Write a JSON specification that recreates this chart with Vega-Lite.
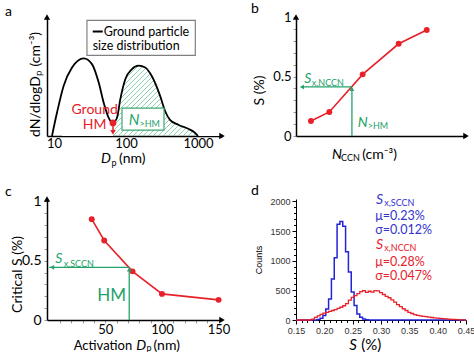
{
"$schema": "https://vega.github.io/schema/vega-lite/v6.json",
"padding": {"left": 5, "top": 2, "right": 0, "bottom": 0},
"config": {
  "view": {"stroke": null},
  "font": "Lato",
  "axis": {"grid": false, "domainColor": "#000", "domainWidth": 1.5, "labelFont": "Lato", "labelFontSize": 13, "labelColor": "#000", "titleFont": "Lato", "titleFontSize": 14, "titleFontWeight": "normal", "titleColor": "#000", "zindex": 1, "labelOverlap": false, "labelFlush": false, "tickColor": "#999", "tickSize": 3},
  "title": {"font": "Lato", "fontSize": 14, "fontWeight": "normal", "anchor": "start", "frame": "group", "color": "#000", "offset": 0}
},
"datasets": {
  "curveA": [
    {"x": 9.38, "y": 0}, {"x": 11.0, "y": 0.195}, {"x": 13.6, "y": 0.421}, {"x": 17.8, "y": 0.576}, {"x": 25.9, "y": 0.653},
    {"x": 33.7, "y": 0.604}, {"x": 41.8, "y": 0.449}, {"x": 49.0, "y": 0.28}, {"x": 57.5, "y": 0.153}, {"x": 66, "y": 0.11},
    {"x": 75, "y": 0.153}, {"x": 83.3, "y": 0.308}, {"x": 97.8, "y": 0.477}, {"x": 121, "y": 0.562}, {"x": 150, "y": 0.591},
    {"x": 185, "y": 0.576}, {"x": 230, "y": 0.5}, {"x": 297, "y": 0.339}, {"x": 348, "y": 0.212}, {"x": 408, "y": 0.136},
    {"x": 540, "y": 0.093}, {"x": 743, "y": 0.059}, {"x": 879, "y": 0.034}, {"x": 1000, "y": 0}
  ],
  "maskTopA": [
    {"x": 57.5, "y": 0.153, "y2": 0.66}, {"x": 66, "y": 0.11, "y2": 0.66},
    {"x": 75, "y": 0.153, "y2": 0.66}, {"x": 83.3, "y": 0.308, "y2": 0.66}, {"x": 97.8, "y": 0.477, "y2": 0.66}, {"x": 121, "y": 0.562, "y2": 0.66}, {"x": 150, "y": 0.591, "y2": 0.66},
    {"x": 185, "y": 0.576, "y2": 0.66}, {"x": 230, "y": 0.5, "y2": 0.66}, {"x": 297, "y": 0.339, "y2": 0.66}, {"x": 348, "y": 0.212, "y2": 0.66}, {"x": 408, "y": 0.136, "y2": 0.66},
    {"x": 540, "y": 0.093, "y2": 0.66}, {"x": 743, "y": 0.059, "y2": 0.66}, {"x": 879, "y": 0.034, "y2": 0.66}, {"x": 1000, "y": 0, "y2": 0.66}
  ],
  "hatchA": [
    {"x": 15.65, "x2": 172.2, "y": 0, "y2": 0.63}, {"x": 18.36, "x2": 202.1, "y": 0, "y2": 0.63}, {"x": 21.54, "x2": 237.1, "y": 0, "y2": 0.63}, {"x": 25.27, "x2": 278.3, "y": 0, "y2": 0.63},
    {"x": 29.66, "x2": 326.6, "y": 0, "y2": 0.63}, {"x": 34.81, "x2": 383.1, "y": 0, "y2": 0.63}, {"x": 40.84, "x2": 449.6, "y": 0, "y2": 0.63}, {"x": 47.92, "x2": 527.5, "y": 0, "y2": 0.63},
    {"x": 56.23, "x2": 619.0, "y": 0, "y2": 0.63}, {"x": 65.98, "x2": 726.4, "y": 0, "y2": 0.63}, {"x": 77.43, "x2": 852.3, "y": 0, "y2": 0.63}, {"x": 90.85, "x2": 1000, "y": 0, "y2": 0.63},
    {"x": 106.6, "x2": 1174, "y": 0, "y2": 0.63}, {"x": 125.1, "x2": 1377, "y": 0, "y2": 0.63}, {"x": 146.8, "x2": 1616, "y": 0, "y2": 0.63}, {"x": 172.2, "x2": 1896, "y": 0, "y2": 0.63},
    {"x": 202.1, "x2": 2225, "y": 0, "y2": 0.63}, {"x": 237.1, "x2": 2610, "y": 0, "y2": 0.63}, {"x": 278.3, "x2": 3063, "y": 0, "y2": 0.63}, {"x": 326.6, "x2": 3594, "y": 0, "y2": 0.63},
    {"x": 383.1, "x2": 4217, "y": 0, "y2": 0.63}, {"x": 449.6, "x2": 4948, "y": 0, "y2": 0.63}, {"x": 527.5, "x2": 5806, "y": 0, "y2": 0.63}, {"x": 619.0, "x2": 6813, "y": 0, "y2": 0.63},
    {"x": 726.4, "x2": 7994, "y": 0, "y2": 0.63}, {"x": 852.3, "x2": 9380, "y": 0, "y2": 0.63}, {"x": 1000, "x2": 11007, "y": 0, "y2": 0.63}
  ],
  "blueD": [
    {"x": 0.15, "y": 0}, {"x": 0.1875, "y": 10}, {"x": 0.1925, "y": 30}, {"x": 0.1975, "y": 75}, {"x": 0.2025, "y": 185},
    {"x": 0.2075, "y": 355}, {"x": 0.2125, "y": 690}, {"x": 0.2175, "y": 1050}, {"x": 0.2225, "y": 1615}, {"x": 0.2275, "y": 1660},
    {"x": 0.2325, "y": 1580}, {"x": 0.2375, "y": 1150}, {"x": 0.2425, "y": 810}, {"x": 0.2475, "y": 470}, {"x": 0.2525, "y": 245},
    {"x": 0.2575, "y": 100}, {"x": 0.2625, "y": 45}, {"x": 0.2675, "y": 15}, {"x": 0.2725, "y": 5}, {"x": 0.2775, "y": 0},
    {"x": 0.45, "y": 0}
  ],
  "redD": [
    {"x": 0.15, "y": 0}, {"x": 0.1775, "y": 15}, {"x": 0.1825, "y": 45}, {"x": 0.1875, "y": 70}, {"x": 0.1925, "y": 95},
    {"x": 0.1975, "y": 115}, {"x": 0.2025, "y": 130}, {"x": 0.2075, "y": 145}, {"x": 0.2125, "y": 160}, {"x": 0.2175, "y": 175},
    {"x": 0.2225, "y": 195}, {"x": 0.2275, "y": 215}, {"x": 0.2325, "y": 240}, {"x": 0.2375, "y": 275}, {"x": 0.2425, "y": 335},
    {"x": 0.2475, "y": 380}, {"x": 0.2525, "y": 410}, {"x": 0.2575, "y": 445}, {"x": 0.2625, "y": 480}, {"x": 0.2675, "y": 495},
    {"x": 0.2725, "y": 465}, {"x": 0.2775, "y": 485}, {"x": 0.2825, "y": 470}, {"x": 0.2875, "y": 495}, {"x": 0.2925, "y": 490},
    {"x": 0.2975, "y": 460}, {"x": 0.3025, "y": 430}, {"x": 0.3075, "y": 400}, {"x": 0.3125, "y": 375}, {"x": 0.3175, "y": 340},
    {"x": 0.3225, "y": 300}, {"x": 0.3275, "y": 260}, {"x": 0.3325, "y": 225}, {"x": 0.3375, "y": 190}, {"x": 0.3425, "y": 160},
    {"x": 0.3475, "y": 130}, {"x": 0.3525, "y": 110}, {"x": 0.3575, "y": 92}, {"x": 0.3625, "y": 78}, {"x": 0.3675, "y": 70},
    {"x": 0.3725, "y": 62}, {"x": 0.3775, "y": 56}, {"x": 0.3825, "y": 48}, {"x": 0.3875, "y": 42}, {"x": 0.3925, "y": 36},
    {"x": 0.3975, "y": 31}, {"x": 0.4025, "y": 27}, {"x": 0.4075, "y": 23}, {"x": 0.4125, "y": 19}, {"x": 0.4175, "y": 15},
    {"x": 0.4225, "y": 12}, {"x": 0.4275, "y": 9}, {"x": 0.4325, "y": 6}, {"x": 0.4375, "y": 3}, {"x": 0.4425, "y": 1},
    {"x": 0.4475, "y": 0}, {"x": 0.45, "y": 0}
  ]
},
"columns": 2,
"bounds": "flush",
"spacing": {"row": 63, "column": 74},
"concat": [
{
  "width": 175, "height": 119,
  "title": {"text": "a", "dx": -42, "dy": 9},
  "encoding": {
    "x": {"field": "x", "type": "quantitative", "scale": {"type": "log", "domain": [8, 2154], "nice": false}, "axis": {"values": [10, 100, 1000], "format": "d", "ticks": false, "labelPadding": 1, "labelFontSize": 13, "title": null}},
    "y": {"field": "y", "type": "quantitative", "scale": {"domain": [0, 1], "nice": false}, "axis": {"labels": false, "ticks": false, "minExtent": 0, "title": "dN/dlogDₚ (cm⁻³)", "titlePadding": 5, "titleY": 67}}
  },
  "layer": [
    {"data": {"name": "hatchA"}, "mark": {"type": "rule", "clip": true, "color": "#72c79b", "strokeWidth": 0.8},
     "encoding": {"x2": {"field": "x2"}, "y2": {"field": "y2"}}},
    {"data": {"values": [{"x": 12.9, "x2": 66, "y": 0, "y2": 0.66}, {"x": 1000, "x2": 2154, "y": 0, "y2": 0.66}]}, "mark": {"type": "rect", "color": "white"},
     "encoding": {"x2": {"field": "x2"}, "y2": {"field": "y2"}}},
    {"data": {"name": "maskTopA"}, "mark": {"type": "area", "interpolate": "monotone", "color": "white"},
     "encoding": {"y2": {"field": "y2"}}},
    {"data": {"name": "curveA"}, "mark": {"type": "line", "interpolate": "monotone", "color": "#000", "strokeWidth": 1.8}},
    {"data": {"values": [{"x": 88, "x2": 337, "y": 0.05, "y2": 0.235}]}, "mark": {"type": "rect", "fill": "white", "stroke": "#3aa872", "strokeWidth": 1.2},
     "encoding": {"x2": {"field": "x2"}, "y2": {"field": "y2"}}},
    {"data": {"values": [{"x": 28.7, "x2": 917.5, "y": 0.678, "y2": 0.972}]}, "mark": {"type": "rect", "fill": "white", "stroke": "#808080", "strokeWidth": 1.2},
     "encoding": {"x2": {"field": "x2"}, "y2": {"field": "y2"}}},
    {"data": {"values": [{"x": 34.5, "x2": 47.5, "y": 0.878}]}, "mark": {"type": "rule", "color": "#000", "strokeWidth": 2},
     "encoding": {"x2": {"field": "x2"}}},
    {"data": {"values": [{"t": "Ground particle", "x": 49.0, "y": 0.878}, {"t": "size distribution", "x": 34.5, "y": 0.754}]},
     "mark": {"type": "text", "align": "left", "baseline": "middle", "fontSize": 12.5, "color": "#000"}, "encoding": {"text": {"field": "t"}}},
    {"data": {"values": [{"t": "(nm)", "x": 80.0, "y": -0.196}]},
     "mark": {"type": "text", "align": "left", "baseline": "middle", "fontSize": 14, "color": "#000"}, "encoding": {"text": {"field": "t"}}},
    {"data": {"values": [{"t": "D", "x": 44.96, "y": -0.196}]},
     "mark": {"type": "text", "align": "left", "baseline": "middle", "fontSize": 14, "fontStyle": "italic", "color": "#000"}, "encoding": {"text": {"field": "t"}}},
    {"data": {"values": [{"t": "p", "x": 62.9, "y": -0.223}]},
     "mark": {"type": "text", "align": "left", "baseline": "middle", "fontSize": 9, "color": "#000"}, "encoding": {"text": {"field": "t"}}},
    {"data": {"values": [{"t": "N", "x": 109, "y": 0.132}]},
     "mark": {"type": "text", "align": "left", "baseline": "middle", "fontSize": 15, "fontStyle": "italic", "color": "#23a26a"}, "encoding": {"text": {"field": "t"}}},
    {"data": {"values": [{"t": ">HM", "x": 154, "y": 0.098}]},
     "mark": {"type": "text", "align": "left", "baseline": "middle", "fontSize": 9, "color": "#23a26a"}, "encoding": {"text": {"field": "t"}}},
    {"data": {"values": [{"x": 66, "y": 0.1, "y2": 0.035}]}, "mark": {"type": "rule", "color": "#e8202a", "strokeWidth": 1.5},
     "encoding": {"y2": {"field": "y2"}}},
    {"data": {"values": [{"x": 66, "y": 0.03}]}, "mark": {"type": "point", "shape": "triangle-down", "filled": true, "size": 30, "color": "#e8202a", "opacity": 1}},
    {"data": {"values": [{"x": 66, "y": 0.11}]}, "mark": {"type": "point", "shape": "circle", "filled": true, "size": 45, "color": "#e8202a", "opacity": 1}},
    {"data": {"values": [{"t": "Ground", "x": 36.7, "y": 0.218}, {"t": "HM", "x": 36.7, "y": 0.092}]},
     "mark": {"type": "text", "align": "center", "baseline": "middle", "fontSize": 14, "color": "#e8202a"}, "encoding": {"text": {"field": "t"}}},
    {"data": {"values": [{"x": 8, "y": 1}]}, "mark": {"type": "point", "shape": "triangle-up", "filled": true, "size": 40, "color": "#000", "opacity": 1}},
    {"data": {"values": [{"x": 2154, "y": 0}]}, "mark": {"type": "point", "shape": "triangle-right", "filled": true, "size": 40, "color": "#000", "opacity": 1}}
  ]
},
{
  "width": 170, "height": 119,
  "title": {"text": "b", "dx": -45, "dy": 9},
  "encoding": {
    "x": {"field": "x", "type": "quantitative", "scale": {"domain": [0, 1], "nice": false}, "axis": {"labels": false, "ticks": false, "title": null}},
    "y": {"field": "y", "type": "quantitative", "scale": {"domain": [0, 1], "nice": false}, "axis": {"values": [0, 0.1, 0.2, 0.3, 0.4, 0.5, 0.6, 0.7, 0.8, 0.9, 1], "format": "~g", "labelExpr": "datum.value === 0 || datum.value === 0.5 || datum.value === 1 ? datum.label : ''", "labelPadding": 2, "title": "S (%)", "titlePadding": 6, "titleY": 73}}
  },
  "layer": [
    {"data": {"values": [{"x": 0.088, "y": 0.126}, {"x": 0.196, "y": 0.202}, {"x": 0.392, "y": 0.518}, {"x": 0.604, "y": 0.775}, {"x": 0.769, "y": 0.891}]},
     "layer": [
       {"mark": {"type": "line", "color": "#e8202a", "strokeWidth": 1.6}},
       {"mark": {"type": "point", "filled": true, "size": 35, "color": "#e8202a", "opacity": 1}}
     ]},
    {"data": {"values": [{"x": 0.329, "y": 0, "x2": 0.329, "y2": 0.405}, {"x": 0.329, "y": 0.412, "x2": 0.03, "y2": 0.412}]},
     "mark": {"type": "rule", "color": "#23a26a", "strokeWidth": 1.3}, "encoding": {"x2": {"field": "x2"}, "y2": {"field": "y2"}}},
    {"data": {"values": [{"x": 0.329, "y": 0.395}]}, "mark": {"type": "point", "shape": "triangle-up", "filled": true, "size": 22, "color": "#23a26a", "opacity": 1}},
    {"data": {"values": [{"x": 0.035, "y": 0.412}]}, "mark": {"type": "point", "shape": "triangle-left", "filled": true, "size": 22, "color": "#23a26a", "opacity": 1}},
    {"data": {"values": [{"t": "S", "x": 0.049, "y": 0.476}, {"t": "N", "x": 0.363, "y": 0.112}]},
     "mark": {"type": "text", "align": "left", "baseline": "middle", "fontSize": 14, "fontStyle": "italic", "color": "#23a26a"}, "encoding": {"text": {"field": "t"}}},
    {"data": {"values": [{"t": "x,NCCN", "x": 0.093, "y": 0.448}, {"t": ">HM", "x": 0.422, "y": 0.082}]},
     "mark": {"type": "text", "align": "left", "baseline": "middle", "fontSize": 9, "color": "#23a26a"}, "encoding": {"text": {"field": "t"}}},
    {"data": {"values": [{"t": "N", "x": 0.212, "y": -0.162}]},
     "mark": {"type": "text", "align": "left", "baseline": "middle", "fontSize": 14, "fontStyle": "italic", "color": "#000"}, "encoding": {"text": {"field": "t"}}},
    {"data": {"values": [{"t": "CCN", "x": 0.265, "y": -0.185}]},
     "mark": {"type": "text", "align": "left", "baseline": "middle", "fontSize": 9, "color": "#000"}, "encoding": {"text": {"field": "t"}}},
    {"data": {"values": [{"t": "(cm⁻³)", "x": 0.39, "y": -0.162}]},
     "mark": {"type": "text", "align": "left", "baseline": "middle", "fontSize": 14, "color": "#000"}, "encoding": {"text": {"field": "t"}}},
    {"data": {"values": [{"x": 0, "y": 1}]}, "mark": {"type": "point", "shape": "triangle-up", "filled": true, "size": 40, "color": "#000", "opacity": 1}},
    {"data": {"values": [{"x": 1, "y": 0}]}, "mark": {"type": "point", "shape": "triangle-right", "filled": true, "size": 40, "color": "#000", "opacity": 1}}
  ]
},
{
  "width": 175, "height": 121,
  "title": {"text": "c", "dx": -42, "dy": 9},
  "encoding": {
    "x": {"field": "x", "type": "quantitative", "scale": {"domain": [-1.5, 153], "nice": false, "zero": false}, "axis": {"values": [10, 20, 30, 40, 50, 60, 70, 80, 90, 100, 110, 120, 130, 140, 150], "labelExpr": "datum.value % 50 === 0 ? datum.label : ''", "labelPadding": 0, "labelFontSize": 13, "title": null}},
    "y": {"field": "y", "type": "quantitative", "scale": {"domain": [0, 1.02], "nice": false}, "axis": {"values": [0, 0.1, 0.2, 0.3, 0.4, 0.5, 0.6, 0.7, 0.8, 0.9, 1], "format": "~g", "labelExpr": "datum.value === 0 || datum.value === 0.5 || datum.value === 1 ? datum.label : ''", "labelPadding": 3, "labelFontSize": 14, "title": "Critical S (%)", "titleFontSize": 14, "titlePadding": -3, "titleY": 75}}
  },
  "layer": [
    {"data": {"values": [{"x": 38, "y": 0.85}, {"x": 49, "y": 0.67}, {"x": 74, "y": 0.41}, {"x": 100, "y": 0.22}, {"x": 150, "y": 0.17}]},
     "layer": [
       {"mark": {"type": "line", "color": "#e8202a", "strokeWidth": 1.6}},
       {"mark": {"type": "point", "filled": true, "size": 35, "color": "#e8202a", "opacity": 1}}
     ]},
    {"data": {"values": [{"x": 71.1, "y": 0, "x2": 71.1, "y2": 0.43}, {"x": 71.1, "y": 0.444, "x2": 0.5, "y2": 0.444}]},
     "mark": {"type": "rule", "color": "#23a26a", "strokeWidth": 1.3}, "encoding": {"x2": {"field": "x2"}, "y2": {"field": "y2"}}},
    {"data": {"values": [{"x": 71.1, "y": 0.425}]}, "mark": {"type": "point", "shape": "triangle-up", "filled": true, "size": 22, "color": "#23a26a", "opacity": 1}},
    {"data": {"values": [{"x": 3, "y": 0.444}]}, "mark": {"type": "point", "shape": "triangle-left", "filled": true, "size": 22, "color": "#23a26a", "opacity": 1}},
    {"data": {"values": [{"t": "S", "x": 5.8, "y": 0.514}]},
     "mark": {"type": "text", "align": "left", "baseline": "middle", "fontSize": 14, "fontStyle": "italic", "color": "#23a26a"}, "encoding": {"text": {"field": "t"}}},
    {"data": {"values": [{"t": "x,SCCN", "x": 13.2, "y": 0.472}]},
     "mark": {"type": "text", "align": "left", "baseline": "middle", "fontSize": 9, "color": "#23a26a"}, "encoding": {"text": {"field": "t"}}},
    {"data": {"values": [{"t": "HM", "x": 68.2, "y": 0.2}]},
     "mark": {"type": "text", "align": "right", "baseline": "middle", "fontSize": 17, "color": "#23a26a"}, "encoding": {"text": {"field": "t"}}},
    {"data": {"values": [{"t": "Activation", "x": 22.1, "y": -0.215}]},
     "mark": {"type": "text", "align": "left", "baseline": "middle", "fontSize": 13, "color": "#000"}, "encoding": {"text": {"field": "t"}}},
    {"data": {"values": [{"t": "(nm)", "x": 92.5, "y": -0.215}]},
     "mark": {"type": "text", "align": "left", "baseline": "middle", "fontSize": 14, "color": "#000"}, "encoding": {"text": {"field": "t"}}},
    {"data": {"values": [{"t": "D", "x": 77.3, "y": -0.215}]},
     "mark": {"type": "text", "align": "left", "baseline": "middle", "fontSize": 14, "fontStyle": "italic", "color": "#000"}, "encoding": {"text": {"field": "t"}}},
    {"data": {"values": [{"t": "p", "x": 86.3, "y": -0.24}]},
     "mark": {"type": "text", "align": "left", "baseline": "middle", "fontSize": 9, "color": "#000"}, "encoding": {"text": {"field": "t"}}},
    {"data": {"values": [{"x": -1.5, "y": 1.02}]}, "mark": {"type": "point", "shape": "triangle-up", "filled": true, "size": 40, "color": "#000", "opacity": 1}},
    {"data": {"values": [{"x": 153, "y": 0}]}, "mark": {"type": "point", "shape": "triangle-right", "filled": true, "size": 40, "color": "#000", "opacity": 1}}
  ]
},
{
  "width": 170, "height": 121,
  "title": {"text": "d", "dx": -45, "dy": 9},
  "encoding": {
    "x": {"field": "x", "type": "quantitative", "scale": {"domain": [0.15, 0.45], "nice": false, "zero": false},
      "axis": {"values": [0.15, 0.16, 0.17, 0.18, 0.19, 0.2, 0.21, 0.22, 0.23, 0.24, 0.25, 0.26, 0.27, 0.28, 0.29, 0.3, 0.31, 0.32, 0.33, 0.34, 0.35, 0.36, 0.37, 0.38, 0.39, 0.4, 0.41, 0.42, 0.43, 0.44, 0.45],
        "format": ".2f", "labelExpr": "abs(datum.value * 20 - round(datum.value * 20)) < 0.001 ? datum.label : ''",
        "domainWidth": 1, "tickColor": "#000", "tickSize": {"condition": {"test": "abs(datum.value * 20 - round(datum.value * 20)) < 0.001", "value": 4}, "value": 2.5},
        "labelFont": "Liberation Sans", "labelFontSize": 9, "labelColor": "#333", "labelPadding": 2, "title": null}},
    "y": {"field": "y", "type": "quantitative", "scale": {"domain": [0, 2040], "nice": false},
      "axis": {"values": [0, 100, 200, 300, 400, 500, 600, 700, 800, 900, 1000, 1100, 1200, 1300, 1400, 1500, 1600, 1700, 1800, 1900, 2000],
        "format": "d", "labelExpr": "datum.value % 500 === 0 ? datum.label : ''",
        "domainWidth": 1, "tickColor": "#000", "tickSize": {"condition": {"test": "datum.value % 500 === 0", "value": 4}, "value": 2.5},
        "labelFont": "Liberation Sans", "labelFontSize": 9, "labelColor": "#333", "labelPadding": 2,
        "title": "Counts", "titleFont": "Liberation Sans", "titleFontSize": 9, "titlePadding": 6}}
  },
  "layer": [
    {"data": {"name": "blueD"}, "mark": {"type": "line", "interpolate": "step-after", "color": "#2323d8", "strokeWidth": 1.5}},
    {"data": {"name": "redD"}, "mark": {"type": "line", "interpolate": "step-after", "color": "#e8202a", "strokeWidth": 1.3}},
    {"data": {"values": [{"t": "S", "x": 0.2912, "y": 2015}]},
     "mark": {"type": "text", "align": "left", "baseline": "middle", "fontSize": 14, "fontStyle": "italic", "color": "#3333cc"}, "encoding": {"text": {"field": "t"}}},
    {"data": {"values": [{"t": "x,SCCN", "x": 0.3058, "y": 1980}]},
     "mark": {"type": "text", "align": "left", "baseline": "middle", "fontSize": 9, "color": "#3333cc"}, "encoding": {"text": {"field": "t"}}},
    {"data": {"values": [{"t": "μ=0.23%", "x": 0.2899, "y": 1760}, {"t": "σ=0.012%", "x": 0.2899, "y": 1515}]},
     "mark": {"type": "text", "align": "left", "baseline": "middle", "fontSize": 12.5, "color": "#3333cc"}, "encoding": {"text": {"field": "t"}}},
    {"data": {"values": [{"t": "S", "x": 0.2912, "y": 1260}]},
     "mark": {"type": "text", "align": "left", "baseline": "middle", "fontSize": 14, "fontStyle": "italic", "color": "#e8202a"}, "encoding": {"text": {"field": "t"}}},
    {"data": {"values": [{"t": "x,NCCN", "x": 0.3058, "y": 1210}]},
     "mark": {"type": "text", "align": "left", "baseline": "middle", "fontSize": 9, "color": "#e8202a"}, "encoding": {"text": {"field": "t"}}},
    {"data": {"values": [{"t": "μ=0.28%", "x": 0.2899, "y": 985}, {"t": "σ=0.047%", "x": 0.2899, "y": 737}]},
     "mark": {"type": "text", "align": "left", "baseline": "middle", "fontSize": 12.5, "color": "#e8202a"}, "encoding": {"text": {"field": "t"}}},
    {"data": {"values": [{"t": "S", "x": 0.244, "y": -416}]},
     "mark": {"type": "text", "align": "left", "baseline": "middle", "fontSize": 15, "fontStyle": "italic", "color": "#000"}, "encoding": {"text": {"field": "t"}}},
    {"data": {"values": [{"t": "(%)", "x": 0.265, "y": -416}]},
     "mark": {"type": "text", "align": "left", "baseline": "middle", "fontSize": 15, "color": "#000"}, "encoding": {"text": {"field": "t"}}}
  ]
}
]
}
